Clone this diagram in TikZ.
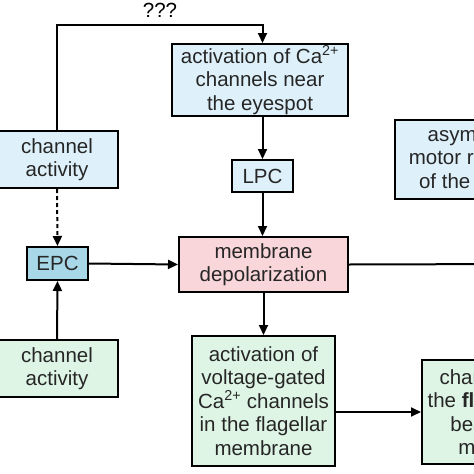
\documentclass[tikz,border=0pt]{standalone}
\usepackage{fontspec}
\setmainfont{Liberation Sans}
\usetikzlibrary{arrows.meta, positioning}
\definecolor{boxblue}{RGB}{222,241,250}
\definecolor{boxdarkblue}{RGB}{168,216,232}
\definecolor{boxpink}{RGB}{248,214,218}
\definecolor{boxgreen}{RGB}{222,245,230}

\begin{document}
\begin{tikzpicture}[
    x=1pt, y=-1pt,
    block/.style={rectangle, draw=black, line width=2pt, inner sep=1pt, align=center, text=black!85, font=\fontsize{20.5}{23.4}\selectfont},
    blueblock/.style={block, fill=boxblue},
    epcblock/.style={block, fill=boxdarkblue},
    pinkblock/.style={block, fill=boxpink},
    greenblock/.style={block, fill=boxgreen},
    arrow/.style={-{Triangle[length=10pt,width=9pt]}, line width=2pt},
    note/.style={font=\fontsize{20.5}{23}\selectfont}
]
    \useasboundingbox (0,0) rectangle (474,474);
    \clip (0,0) rectangle (474,474);

    % Nodes
    \node[blueblock, minimum width=176pt, minimum height=72pt] (ca) at (260,80) {activation of Ca\textsuperscript{2+}\\channels near\\the eyespot};
    \node[blueblock, minimum width=61pt, minimum height=32pt] (lpc) at (262.5,176) {LPC};
    \node[blueblock, minimum width=122pt, minimum height=57pt] (ch1) at (57,159.5) {channel\\activity};
    \node[epcblock, minimum width=61pt, minimum height=33pt] (epc) at (57.5,263.5) {EPC};
    \node[pinkblock, minimum width=169pt, minimum height=55pt] (mem) at (263.5,264.5) {membrane\\depolarization};
    \node[greenblock, minimum width=122pt, minimum height=57pt] (ch2) at (57,368.5) {channel\\activity};
    \node[greenblock, minimum width=143pt, minimum height=130pt] (vg) at (263.5,401) {activation of\\voltage-gated\\Ca\textsuperscript{2+} channels\\in the flagellar\\membrane};
    \node[blueblock, minimum width=170pt, minimum height=79pt] (asym) at (480,159.5) {asymmetric\\motor response\\of the flagella};
    \node[greenblock, minimum width=124pt, minimum height=104pt] (chg) at (484,412) {change in\\the \textbf{flagellar}\\beating\\mode};
    \coordinate (offright) at (520,264);

    % Arrows
    \draw[arrow] (ch1.north) |- (160,25) -| (ca.north -| lpc.north);
    \draw[arrow, dash pattern=on 4pt off 3pt] (ch1.south) -- (epc.north);
    \draw[arrow] (ch2.north) -- (epc.south);
    \draw[arrow] (epc.east) -- (mem.west);
    \draw[arrow] (ca.south -| lpc.north) -- (lpc.north);
    \draw[arrow] (lpc.south) -- (mem.north -| lpc.south);
    \draw[arrow] (mem.south) -- (vg.north);
    \draw[arrow] (vg.east |- chg.west) -- (chg.west);
    \draw[line width=2pt] (mem.east) -- (offright);

    % Annotations
    \node[note] (qq) at (160,10) {???};
\end{tikzpicture}
\end{document}
